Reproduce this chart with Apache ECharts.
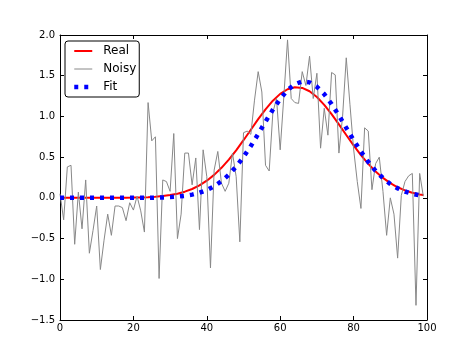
<!DOCTYPE html>
<html>
<head>
<meta charset="utf-8">
<script src="https://cdn.jsdelivr.net/npm/echarts@6/dist/echarts.min.js"></script>
<style>html,body{margin:0;padding:0;background:#fff}#c{width:474px;height:355px}</style>
</head>
<body>
<div id="c"></div>
<script>
const xTicks = [0, 20, 40, 60, 80, 100];
const yTicks = [-1.5, -1.0, -0.5, 0.0, 0.5, 1.0, 1.5, 2.0];
const curveX = [0,2,4,6,8,10,12,14,16,18,20,22,24,26,28,30,32,34,36,38,40,42,44,46,48,50,52,54,56,58,60,62,64,66,68,70,72,74,76,78,80,82,84,86,88,90,92,94,96,98,99];
const realY = [0,0,0,0,0,0,0,0,0.001,0.002,0.003,0.005,0.008,0.014,0.022,0.034,0.051,0.076,0.109,0.153,0.211,0.282,0.369,0.470,0.584,0.708,0.837,0.966,1.087,1.193,1.277,1.334,1.359,1.350,1.309,1.238,1.142,1.028,0.902,0.772,0.645,0.525,0.418,0.324,0.245,0.181,0.130,0.091,0.062,0.042,0.034];
const fitY = [0,0,0,0,0,0,0,0,0,0,0,0.001,0.001,0.003,0.005,0.009,0.015,0.025,0.040,0.063,0.096,0.142,0.204,0.284,0.383,0.502,0.637,0.784,0.936,1.083,1.215,1.323,1.396,1.429,1.418,1.364,1.273,1.152,1.011,0.860,0.709,0.568,0.440,0.331,0.242,0.171,0.117,0.078,0.050,0.031,0.025];
const noisyY = [0.05,-0.27,0.38,0.40,-0.57,0.07,-0.38,0.22,-0.68,-0.40,
-0.10,-0.88,-0.52,-0.20,-0.46,-0.10,-0.10,-0.12,-0.28,-0.06,
-0.15,0.02,-0.16,-0.42,1.17,0.70,0.75,-0.99,0.22,0.20,
0.08,0.79,-0.50,-0.20,0.55,0.55,0.16,0.49,-0.39,0.59,
0.26,-0.86,0.34,0.57,0.18,0.08,0.18,0.55,0.26,-0.54,
0.80,0.82,0.78,1.20,1.55,1.30,0.40,0.33,1.05,1.22,
0.59,1.25,1.94,1.22,1.17,1.16,1.55,1.38,1.74,1.22,
1.53,0.61,1.10,0.77,1.54,1.51,0.55,1.00,1.72,1.15,
0.60,0.20,-0.13,0.86,0.82,0.10,0.42,0.50,0.08,-0.46,
0.00,-0.20,-0.74,0.03,0.20,0.27,0.30,-1.32,0.30,0.02];

const font = 'DejaVu Sans';
const pair = (xs, ys) => xs.map((x, i) => [x, ys[i]]);
const noisyData = noisyY.map((y, i) => [i, y]);
const fmtY = v => (v < 0 ? '\u2212' : '') + Math.abs(v).toFixed(1);

const chart = echarts.init(document.getElementById('c'), null, {renderer: 'canvas'});
const axisLine = {show: true, onZero: false, lineStyle: {color: '#000', width: 1}};
const axisTick = {show: true, inside: true, length: 4, lineStyle: {color: '#000'}};
chart.setOption({
  animation: false,
  backgroundColor: '#fff',
  grid: {left: 60, right: 47, top: 35, bottom: 35, containLabel: false},
  xAxis: [
    {type: 'value', min: xTicks[0], max: xTicks[xTicks.length-1], interval: 20, position: 'bottom',
     axisLine: axisLine, axisTick: axisTick, splitLine: {show: false},
     axisLabel: {color: '#000', fontFamily: font, fontSize: 10, margin: 3}},
    {type: 'value', min: xTicks[0], max: xTicks[xTicks.length-1], interval: 20, position: 'top',
     axisLine: axisLine, axisTick: axisTick, splitLine: {show: false}, axisLabel: {show: false}}
  ],
  yAxis: [
    {type: 'value', min: yTicks[0], max: yTicks[yTicks.length-1], interval: 0.5, position: 'left',
     axisLine: axisLine, axisTick: axisTick, splitLine: {show: false},
     axisLabel: {color: '#000', fontFamily: font, fontSize: 10, margin: 5, formatter: fmtY}},
    {type: 'value', min: yTicks[0], max: yTicks[yTicks.length-1], interval: 0.5, position: 'right',
     axisLine: axisLine, axisTick: axisTick, splitLine: {show: false}, axisLabel: {show: false}}
  ],
  legend: {
    orient: 'vertical', left: 65, top: 41,
    padding: [4, 3, 4, 7], itemGap: 6, itemWidth: 18, itemHeight: 11,
    borderColor: '#000', borderWidth: 1, borderRadius: 3, backgroundColor: '#fff',
    itemStyle: {opacity: 0},
    textStyle: {color: '#000', fontFamily: font, fontSize: 12, padding: [0, 0, 0, 6]},
    data: [
      {name: 'Real', lineStyle: {width: 2}},
      {name: 'Noisy', lineStyle: {width: 1}},
      {name: 'Fit', lineStyle: {width: 4.5, type: [4, 6], cap: 'butt'}}
    ]
  },
  series: [
    {name: 'Real', type: 'line', data: pair(curveX, realY), showSymbol: false, symbol: 'none',
     lineStyle: {color: '#ff0000', width: 2}, itemStyle: {color: '#ff0000'}, z: 2},
    {name: 'Noisy', type: 'line', data: noisyData, showSymbol: false, symbol: 'none',
     lineStyle: {color: '#888888', width: 1}, itemStyle: {color: '#888888'}, z: 3},
    {name: 'Fit', type: 'line', data: pair(curveX, fitY), showSymbol: false, symbol: 'none',
     lineStyle: {color: '#0000ff', width: 4.5, type: [4, 6], cap: 'butt'}, itemStyle: {color: '#0000ff'}, z: 4}
  ]
});
</script>
</body>
</html>
